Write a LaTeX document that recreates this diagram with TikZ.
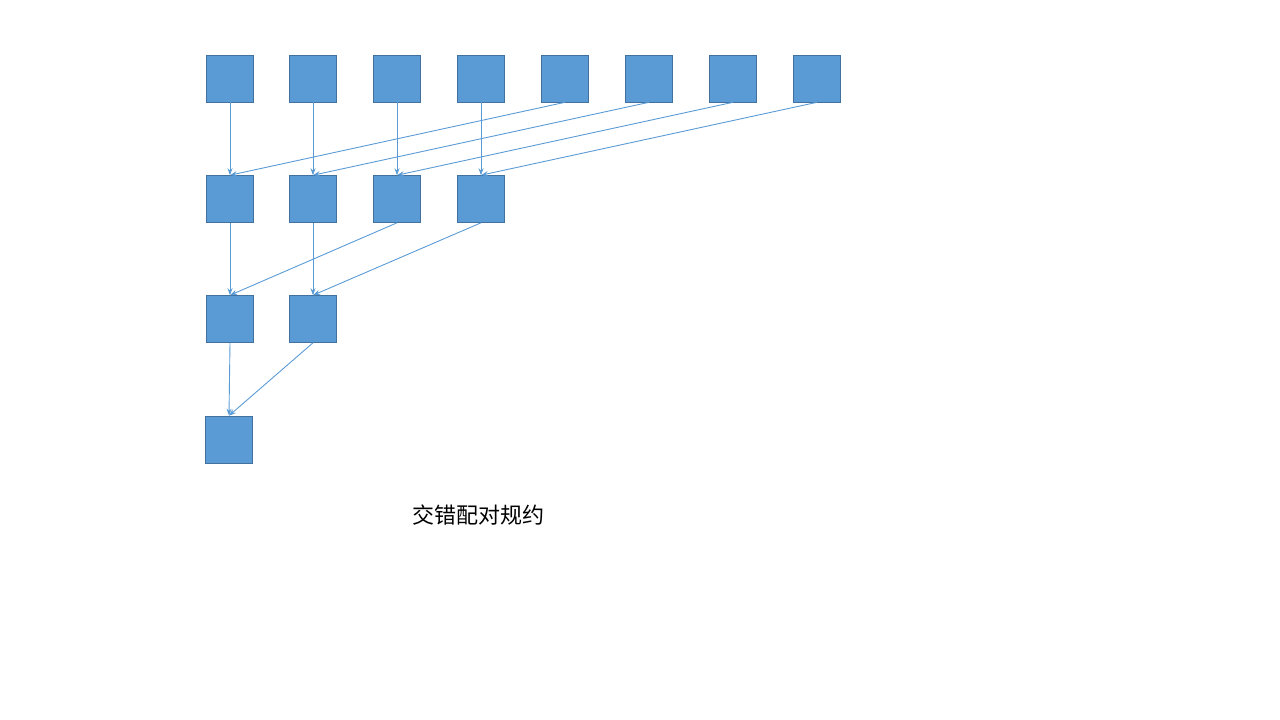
\documentclass[tikz,border=0pt]{standalone}
\usepackage{fontspec}
\newfontfamily\cjk{Noto Sans CJK SC}
\usetikzlibrary{arrows.meta}
\definecolor{bfill}{HTML}{5B9BD5}
\definecolor{bdraw}{HTML}{41719C}
\tikzset{blk/.style={draw=bdraw,fill=bfill,minimum size=47pt,inner sep=0pt,line width=0.6pt},
 con/.style={draw=bfill,line width=0.9pt,-{Stealth[length=7pt,width=5pt]}}}
\begin{document}
\begin{tikzpicture}[x=1pt,y=-1pt]
\useasboundingbox (0,0) rectangle (1280,720);
\foreach \i/\x in {1/230,2/313,3/397,4/481,5/565,6/649,7/733,8/817}
  \node[blk] (a\i) at (\x,78.5) {};
\foreach \i/\x in {1/230,2/313,3/397,4/481}
  \node[blk] (b\i) at (\x,199) {};
\foreach \i/\x in {1/230,2/313}
  \node[blk] (c\i) at (\x,319) {};
\node[blk] (d1) at (229,439.5) {};
\foreach \i/\j in {1/1,2/2,3/3,4/4,5/1,6/2,7/3,8/4}
  \draw[con] (a\i.south) -- (b\j.north);
\foreach \i/\j in {1/1,2/2,3/1,4/2}
  \draw[con] (b\i.south) -- (c\j.north);
\foreach \i in {1,2}
  \draw[con] (c\i.south) -- (d1.north);
\node[font=\cjk\fontsize{22}{26}\selectfont] (t) at (478,515) {交错配对规约};
\end{tikzpicture}
\end{document}
